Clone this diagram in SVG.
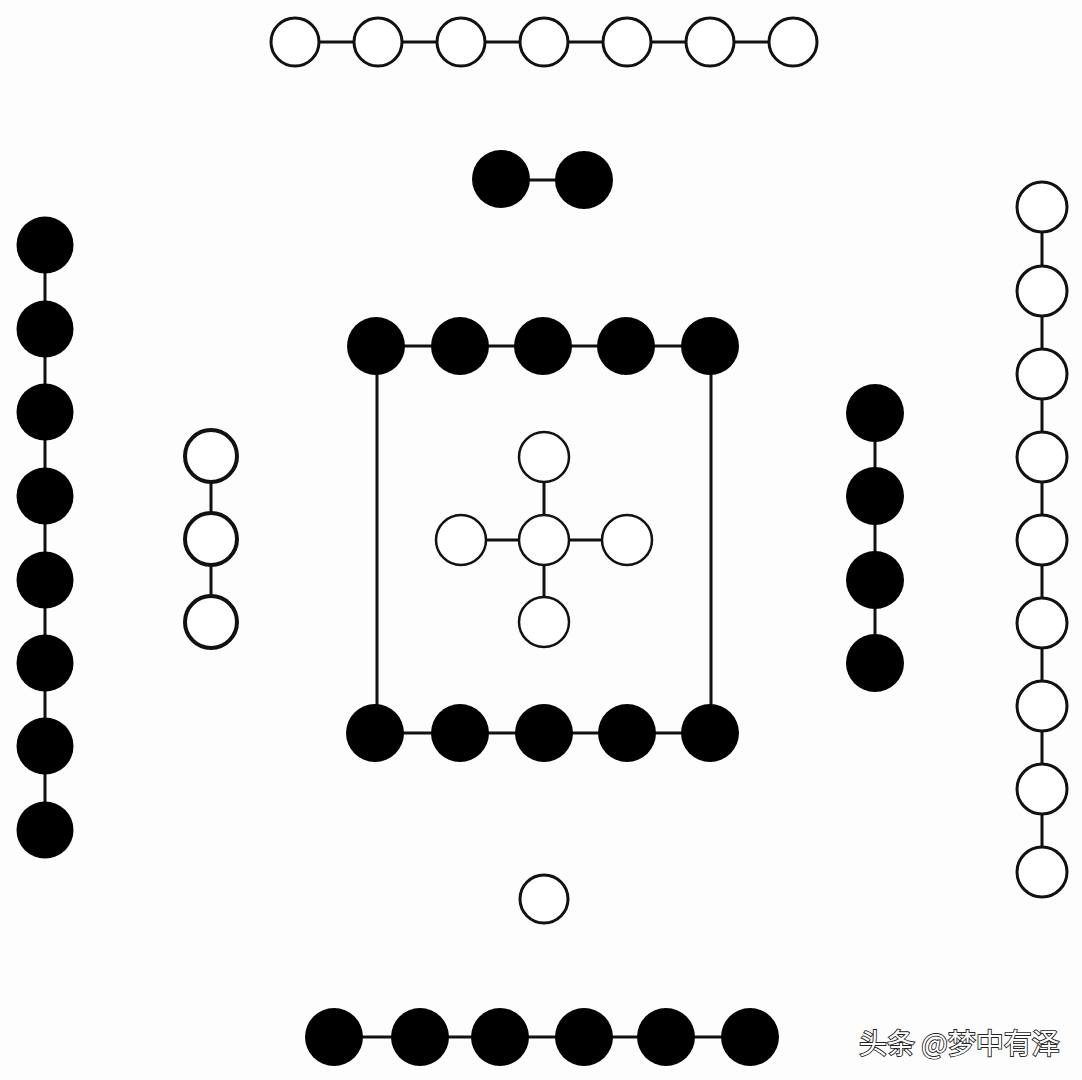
<svg xmlns="http://www.w3.org/2000/svg" width="1082" height="1080" viewBox="0 0 1082 1080">
<style>
.w{fill:#fff;stroke:#111;stroke-width:3}
.wt{fill:#fff;stroke:#111;stroke-width:4}
.b{fill:#000}
.ln{stroke:#111;stroke-width:3;fill:none}
.wm{font-family:"Noto Sans CJK SC","Noto Sans",sans-serif;font-size:28px;fill:#fff;stroke:#222;stroke-width:1.8;paint-order:stroke}
</style>
<rect width="1082" height="1080" fill="#fdfdfd"/>
<g id="connectors">
<line class="ln" x1="295" y1="42" x2="793" y2="42"/>
<line class="ln" x1="501" y1="180" x2="584" y2="180"/>
<line class="ln" x1="45" y1="245" x2="45" y2="830"/>
<line class="ln" x1="211" y1="456" x2="211" y2="622"/>
<line class="ln" x1="376" y1="346" x2="710" y2="346"/>
<line class="ln" x1="375" y1="733" x2="710" y2="733"/>
<line class="ln" x1="377" y1="346" x2="377" y2="733"/>
<line class="ln" x1="711" y1="346" x2="711" y2="733"/>
<line class="ln" x1="544" y1="457" x2="544" y2="622"/>
<line class="ln" x1="461" y1="540" x2="627" y2="540"/>
<line class="ln" x1="875" y1="413" x2="875" y2="663"/>
<line class="ln" x1="1042" y1="207" x2="1042" y2="872"/>
<line class="ln" x1="334" y1="1037" x2="750" y2="1037"/>
</g>
<g id="top-white-7">
<circle class="w" cx="295" cy="42" r="24"/>
<circle class="w" cx="378" cy="42" r="24"/>
<circle class="w" cx="461" cy="42" r="24"/>
<circle class="w" cx="544" cy="42" r="24"/>
<circle class="w" cx="627" cy="42" r="24"/>
<circle class="w" cx="710" cy="42" r="24"/>
<circle class="w" cx="793" cy="42" r="24"/>
</g>
<g id="top-black-2">
<circle class="b" cx="501" cy="179" r="29"/>
<circle class="b" cx="584" cy="180" r="29"/>
</g>
<g id="left-black-8">
<circle class="b" cx="45" cy="245" r="28.5"/>
<circle class="b" cx="45" cy="329" r="28.5"/>
<circle class="b" cx="45" cy="412" r="28.5"/>
<circle class="b" cx="45" cy="496" r="28.5"/>
<circle class="b" cx="45" cy="580" r="28.5"/>
<circle class="b" cx="45" cy="663" r="28.5"/>
<circle class="b" cx="45" cy="746" r="28.5"/>
<circle class="b" cx="45" cy="830" r="28.5"/>
</g>
<g id="left-white-3">
<circle class="wt" cx="211" cy="456" r="26"/>
<circle class="wt" cx="211" cy="539" r="26"/>
<circle class="wt" cx="211" cy="622" r="26"/>
</g>
<g id="center-black-top-5">
<circle class="b" cx="376" cy="346" r="29"/>
<circle class="b" cx="460" cy="346" r="29"/>
<circle class="b" cx="543" cy="346" r="29"/>
<circle class="b" cx="626" cy="346" r="29"/>
<circle class="b" cx="710" cy="346" r="29"/>
</g>
<g id="center-black-bottom-5">
<circle class="b" cx="375" cy="733" r="29"/>
<circle class="b" cx="460" cy="733" r="29"/>
<circle class="b" cx="544" cy="733" r="29"/>
<circle class="b" cx="627" cy="733" r="29"/>
<circle class="b" cx="710" cy="733" r="29"/>
</g>
<g id="center-white-5">
<circle class="w" cx="544" cy="457" r="25" style="stroke-width:2.5"/>
<circle class="w" cx="461" cy="540" r="25" style="stroke-width:2.5"/>
<circle class="w" cx="544" cy="540" r="25" style="stroke-width:2.5"/>
<circle class="w" cx="627" cy="540" r="25" style="stroke-width:2.5"/>
<circle class="w" cx="544" cy="622" r="25" style="stroke-width:2.5"/>
</g>
<g id="right-black-4">
<circle class="b" cx="875" cy="413" r="29"/>
<circle class="b" cx="875" cy="496" r="29"/>
<circle class="b" cx="875" cy="580" r="29"/>
<circle class="b" cx="875" cy="663" r="29"/>
</g>
<g id="right-white-9">
<circle class="w" cx="1042" cy="207" r="25"/>
<circle class="w" cx="1042" cy="291" r="25"/>
<circle class="w" cx="1042" cy="374" r="25"/>
<circle class="w" cx="1042" cy="457" r="25"/>
<circle class="w" cx="1042" cy="540" r="25"/>
<circle class="w" cx="1042" cy="623" r="25"/>
<circle class="w" cx="1042" cy="706" r="25"/>
<circle class="w" cx="1042" cy="789" r="25"/>
<circle class="w" cx="1042" cy="872" r="25"/>
</g>
<g id="bottom-white-1">
<circle class="w" cx="544" cy="899" r="24"/>
</g>
<g id="bottom-black-6">
<circle class="b" cx="334" cy="1037" r="29"/>
<circle class="b" cx="420" cy="1037" r="29"/>
<circle class="b" cx="500" cy="1037" r="29"/>
<circle class="b" cx="584" cy="1037" r="29"/>
<circle class="b" cx="666" cy="1037" r="29"/>
<circle class="b" cx="750" cy="1037" r="29"/>
</g>
<text class="wm" x="859" y="1054">头条 @梦中有泽</text>
</svg>
